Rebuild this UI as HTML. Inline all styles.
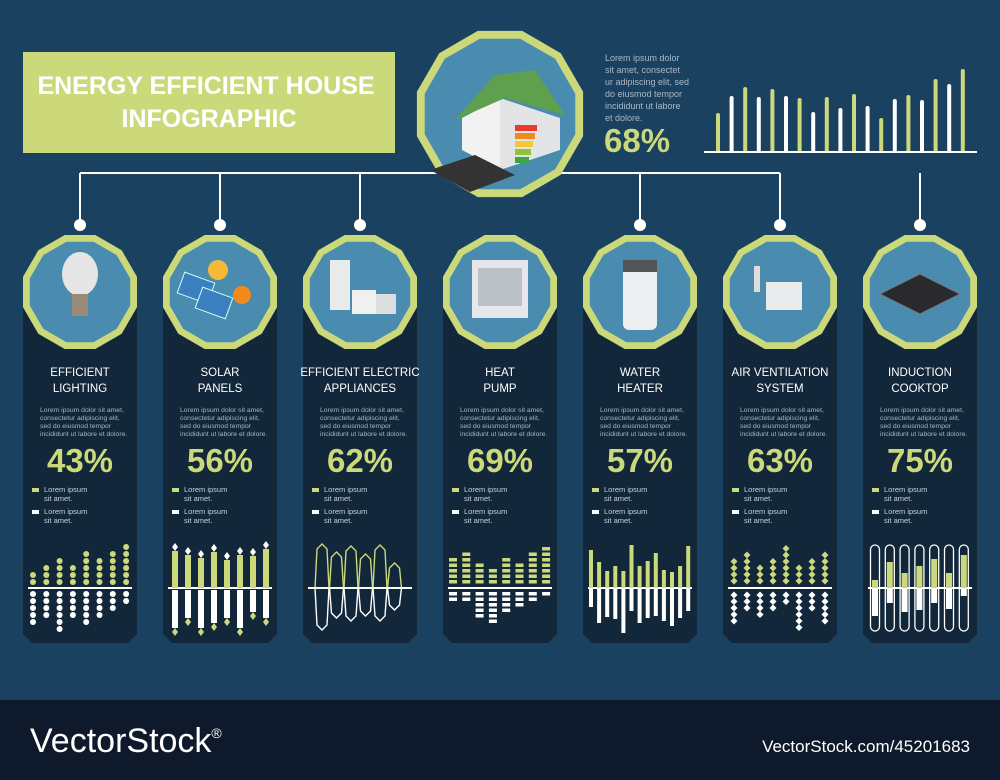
<!DOCTYPE html>
<html><head><meta charset="utf-8">
<style>
body{margin:0;width:1000px;height:780px;overflow:hidden;background:#1a4160;font-family:"Liberation Sans",sans-serif}
svg{display:block}
</style></head><body>
<svg id="s" width="1000" height="780" viewBox="0 0 1000 780">
<rect x="0" y="0" width="1000" height="700" fill="#1a4160"/>
<rect x="23" y="52" width="372" height="101" fill="#ccd97a"/>
<text x="206" y="94" text-anchor="middle" fill="#fff" font-size="25" font-weight="bold">ENERGY EFFICIENT HOUSE</text>
<text x="209" y="127" text-anchor="middle" fill="#fff" font-size="25" font-weight="bold">INFOGRAPHIC</text>
<g id="conn"></g>
<g id="cards"></g>
<g id="center"></g>
<g fill="#a9b8c5" font-size="9">
<text x="605" y="61">Lorem ipsum dolor</text><text x="605" y="73">sit amet, consectet</text><text x="605" y="85">ur adipiscing elit, sed</text><text x="605" y="97">do eiusmod tempor</text><text x="605" y="109">incididunt ut labore</text><text x="605" y="121">et dolore.</text></g>
<text x="604" y="152" fill="#ccd97a" font-size="33" font-weight="bold">68%</text>
<g id="topchart"></g>
<rect x="0" y="700" width="1000" height="80" fill="#0e1a2b"/>
<text x="30" y="752" fill="#fff" font-size="34">VectorStock<tspan font-size="14" dy="-14">®</tspan></text>
<text x="970" y="752" text-anchor="end" fill="#fff" font-size="17">VectorStock.com/45201683</text>
</svg>
<script>
const topValues=[36,53,62,52,60,53,51,37,52,41,55,43,31,50,54,49,70,65,80];
const cardTitles=[["EFFICIENT","LIGHTING"],["SOLAR","PANELS"],["EFFICIENT ELECTRIC","APPLIANCES"],["HEAT","PUMP"],["WATER","HEATER"],["AIR VENTILATION","SYSTEM"],["INDUCTION","COOKTOP"]];
const cardPercents=["43%","56%","62%","69%","57%","63%","75%"];
const dotsUp=[2,3,4,3,5,4,5,6];
const dotsDown=[5,4,6,4,5,4,3,2];
const solarUp=[37,33,30,36,28,33,32,39];
const solarDown=[38,28,38,33,28,38,22,28];
const waveUp=[44,36,42,34,43,25];
const waveDown=[42,30,33,28,33,22];
const segUp=[5,6,4,3,5,4,6,7];
const segDown=[2,2,5,6,4,3,2,1];
const heaterUp=[38,26,17,22,17,43,22,27,35,18,16,22,42];
const heaterDown=[18,34,28,30,44,22,34,29,27,32,37,29,22];
const diaUp=[4,5,3,4,6,3,4,5];
const diaDown=[5,3,4,3,2,6,3,5];
const capUp=[8,26,15,22,29,15,33];
const capDown=[28,15,24,22,15,21,8];

const NS="http://www.w3.org/2000/svg";
const LIME="#ccd97a",WHITE="#ffffff";
function mk(tag,attrs,parent){const e=document.createElementNS(NS,tag);for(const k in attrs)e.setAttribute(k,attrs[k]);parent.appendChild(e);return e;}
function poly(cx,cy,r,n){let p=[];for(let i=0;i<n;i++){const a=Math.PI*2*i/n+Math.PI/n;p.push((cx+r*Math.sin(a)).toFixed(1)+","+(cy-r*Math.cos(a)).toFixed(1));}return p.join(" ");}

const tc=document.getElementById('topchart');
const tBase=151,tX0=718,tStep=13.6,tScale=1;
topValues.forEach((v,i)=>{const x=tX0+i*tStep;
 const b=mk('line',{x1:x,y1:tBase,x2:x,y2:tBase-v*tScale,stroke:i%2?WHITE:LIME,'stroke-width':4,'stroke-linecap':'round'},tc);
 });
const ta=mk('line',{x1:704,y1:tBase+1,x2:977,y2:tBase+1,stroke:WHITE,'stroke-width':2},tc);


const cn=document.getElementById('conn');
mk('line',{x1:80,y1:173,x2:780,y2:173,stroke:WHITE,'stroke-width':2},cn);
const cx0=80,step=140;
for(let i=0;i<7;i++){const x=cx0+i*step;if(i==3)continue;mk('line',{x1:x,y1:173,x2:x,y2:225,stroke:WHITE,'stroke-width':2},cn);mk('circle',{cx:x,cy:225,r:6,fill:WHITE},cn);}

const cg=document.getElementById('cards');
for(let i=0;i<7;i++){const x=cx0+i*step;
 const g=mk('g',{},cg);
 mk('path',{d:`M${x-57} 300 H${x+57} V634 L${x+48} 643 H${x-48} L${x-57} 634 Z`,fill:'#12273a'},g);
 mk('polygon',{points:poly(x,292,59,12),fill:LIME},g);
 mk('polygon',{points:poly(x,292,52,12),fill:'#4a8bb0'},g);
 drawIcon(i,x,292,g);
 cardTitles[i].forEach((t,j)=>{const e=mk('text',{x:x,y:376+j*16,'text-anchor':'middle',fill:WHITE,'font-size':11.5},g);e.textContent=t;});
 ["Lorem ipsum dolor sit amet,","consectetur adipiscing elit,","sed do eiusmod tempor","incididunt ut labore et dolore."].forEach((t,j)=>{const e=mk('text',{x:x-40,y:412+j*8,fill:'#a9b7c3','font-size':6.8},g);e.textContent=t;});
 const p=mk('text',{x:x,y:472,'text-anchor':'middle',fill:LIME,'font-size':33,'font-weight':'bold'},g);p.textContent=cardPercents[i];
 
 [[LIME,492],[WHITE,514]].forEach(([c,y])=>{mk('rect',{x:x-48,y:y-4,width:7,height:4,fill:c},g);
  let e=mk('text',{x:x-36,y:y,fill:'#c9d3dc','font-size':7.5},g);e.textContent="Lorem ipsum";
  e=mk('text',{x:x-36,y:y+9,fill:'#c9d3dc','font-size':7.5},g);e.textContent="sit amet.";});
 mk('line',{x1:x-52,y1:588,x2:x+52,y2:588,stroke:WHITE,'stroke-width':2},g);
}
function drawIcon(i,x,y,g){
 if(i==0){mk('ellipse',{cx:x,cy:y-18,rx:18,ry:22,fill:'#e6e6e6'},g);mk('rect',{x:x-8,y:y+2,width:16,height:22,fill:'#9b8a78'},g);}
 if(i==1){mk('rect',{x:x-40,y:y-15,width:32,height:22,fill:'#3a7fc0',stroke:'#cfe',transform:`rotate(20 ${x-24} ${y-4})`},g);mk('rect',{x:x-22,y:y,width:32,height:22,fill:'#3a7fc0',stroke:'#cfe',transform:`rotate(20 ${x-6} ${y+11})`},g);mk('circle',{cx:x-2,cy:y-22,r:10,fill:'#f5b936'},g);mk('circle',{cx:x+22,cy:y+3,r:9,fill:'#f08a1c'},g);}
 if(i==2){mk('rect',{x:x-30,y:y-32,width:20,height:50,fill:'#e8eaec'},g);mk('rect',{x:x-8,y:y-2,width:24,height:24,fill:'#f0f0f0'},g);mk('rect',{x:x+16,y:y+2,width:20,height:20,fill:'#ddd'},g);}
 if(i==3){mk('rect',{x:x-28,y:y-32,width:56,height:58,fill:'#e5e7ea'},g);mk('rect',{x:x-22,y:y-24,width:44,height:38,fill:'#b9c0c6'},g);}
 if(i==4){mk('rect',{x:x-17,y:y-32,width:34,height:70,rx:6,fill:'#eceeef'},g);mk('rect',{x:x-17,y:y-32,width:34,height:12,fill:'#555'},g);}
 if(i==5){mk('rect',{x:x-14,y:y-10,width:36,height:28,fill:'#e8eaec'},g);mk('rect',{x:x-26,y:y-26,width:6,height:26,fill:'#ddd'},g);}
 if(i==6){mk('polygon',{points:`${x-40},${y+2} ${x},${y-18} ${x+40},${y+2} ${x},${y+22}`,fill:'#2a2a2e',stroke:'#777'},g);}
}

const base=588;
function nm(e,n){}
const G=document.getElementById('cards');
dotsUp.forEach((v,i)=>{const x=33+i*13.3;for(let k=0;k<v;k++){nm(mk('circle',{cx:x,cy:base-6-k*7,r:3,fill:LIME},G),'lighting-dot-up');}
 for(let k=0;k<dotsDown[i];k++){nm(mk('circle',{cx:x,cy:base+6+k*7,r:3,fill:WHITE},G),'lighting-dot-down');}});
solarUp.forEach((v,i)=>{const x=175+i*13;
 nm(mk('rect',{x:x-3,y:base-v,width:6,height:v,fill:LIME},G),'solar-bar-up');
 nm(mk('rect',{x:x-3,y:base+2,width:6,height:solarDown[i],fill:WHITE},G),'solar-bar-down');
 mk('polygon',{points:`${x},${base-v-8} ${x+3},${base-v-4} ${x},${base-v} ${x-3},${base-v-4}`,fill:WHITE},G);
 const d=base+2+solarDown[i];mk('polygon',{points:`${x},${d} ${x+3},${d+4} ${x},${d+8} ${x-3},${d+4}`,fill:LIME},G);});
// card3 wave capsules
waveUp.forEach((v,i)=>{const x=322+i*14.5;
 nm(mk('polygon',{points:`${x-7},${base} ${x-5},${base-v+5} ${x},${base-v} ${x+5},${base-v+5} ${x+7},${base}`,fill:'none',stroke:LIME,'stroke-width':1.4},G),'appliance-peak-up');
 const w=waveDown[i];
 nm(mk('polygon',{points:`${x-7},${base} ${x-5},${base+w-5} ${x},${base+w} ${x+5},${base+w-5} ${x+7},${base}`,fill:'none',stroke:WHITE,'stroke-width':1.4},G),'appliance-peak-down');});
segUp.forEach((v,i)=>{const x=453+i*13.3;for(let k=0;k<v;k++)nm(mk('rect',{x:x-4,y:base-8-k*5.5,width:8,height:3.5,fill:LIME},G),'pump-seg-up');
 for(let k=0;k<segDown[i];k++)nm(mk('rect',{x:x-4,y:base+4+k*5.5,width:8,height:3.5,fill:WHITE},G),'pump-seg-down');});
heaterUp.forEach((v,i)=>{const x=591+i*8.1;nm(mk('rect',{x:x-2,y:base-v,width:4,height:v,fill:LIME},G),'heater-bar-up');
 nm(mk('rect',{x:x-2,y:base+1,width:4,height:heaterDown[i],fill:WHITE},G),'heater-bar-down');});
function dia(x,y,c,n){nm(mk('polygon',{points:`${x},${y-3.5} ${x+3.5},${y} ${x},${y+3.5} ${x-3.5},${y}`,fill:c},G),n);}
diaUp.forEach((v,i)=>{const x=734+i*13;for(let k=0;k<v;k++)dia(x,base-7-k*6.5,LIME,'vent-diamond-up');
 for(let k=0;k<diaDown[i];k++)dia(x,base+7+k*6.5,WHITE,'vent-diamond-down');});
capUp.forEach((v,i)=>{const x=875+i*14.8;
 nm(mk('rect',{x:x-3,y:base-v,width:6,height:v,fill:LIME},G),'cooktop-fill-up');
 nm(mk('rect',{x:x-3,y:base,width:6,height:capDown[i],fill:WHITE},G),'cooktop-fill-down');
 mk('rect',{x:x-4.5,y:base-43,width:9,height:86,rx:4.5,fill:'none',stroke:WHITE,'stroke-width':1.3},G);});

const C=document.getElementById('center');
mk('polygon',{points:poly(500,114,86,12),fill:LIME},C);
mk('polygon',{points:poly(500,114,78,12),fill:'#4a8bb0'},C);
mk('polygon',{points:`462,118 500,98 500,170 462,150`,fill:'#f2f2f2'},C);
mk('polygon',{points:`500,98 560,118 560,150 500,170`,fill:'#e2e4e6'},C);
mk('polygon',{points:`455,120 495,75 535,70 565,115 505,98`,fill:'#5fa04e'},C);
mk('polygon',{points:`430,170 475,155 515,175 470,192`,fill:'#333'},C);
["#e73b2c","#f08a1c","#f5c636","#8cc43f","#3fa648"].forEach((c,k)=>mk('rect',{x:515,y:125+k*8,width:22-k*2,height:6,fill:c},C));
</script>
</body></html>
